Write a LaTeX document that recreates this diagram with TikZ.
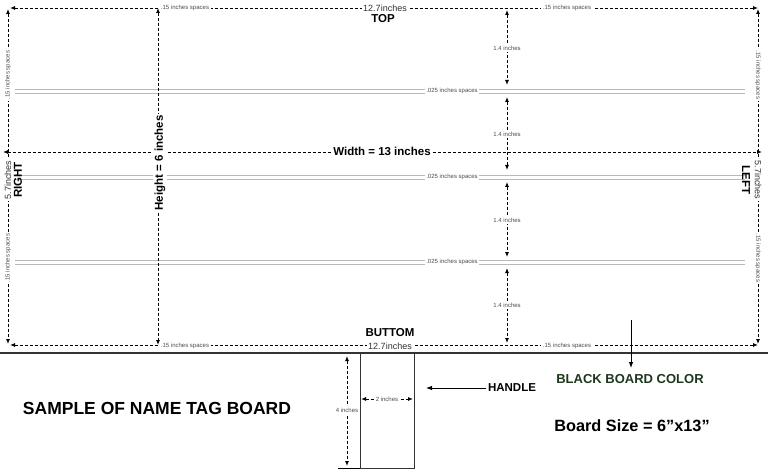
\documentclass[tikz,border=0pt]{standalone}
\usepackage{fontspec}
\setmainfont{Liberation Sans}
\usetikzlibrary{arrows.meta}
\definecolor{dgreen}{RGB}{30,55,30}
\begin{document}
\begin{tikzpicture}[x=1pt,y=-1pt,
 dimb/.style={dash pattern=on 3pt off 2pt,line width=0.9pt,{Latex[length=5pt,width=4pt]}-{Latex[length=5pt,width=4pt]}},
 tiny/.style={font=\fontsize{6}{7}\selectfont,fill=white,inner sep=1.5pt,text=black!70},
 small/.style={font=\fontsize{9}{10}\selectfont,fill=white,inner sep=1.5pt,text=black!80},
 bold/.style={font=\bfseries\fontsize{11.5}{13}\selectfont,inner sep=1.5pt},
 gap/.style={gray!55,line width=0.7pt}]
\useasboundingbox (0,0) rectangle (768,473);
\coordinate (tl) at (10,8); \coordinate (tr) at (758,8);
\coordinate (bl) at (10,345); \coordinate (br) at (758,345);
\foreach \y in {89,175,260}{
 \draw[gap] (15,\y) -- (745,\y); \draw[gap] (15,\y+4) -- (745,\y+4);
 \node[tiny] at (452,\y+2) {.025 inches spaces};}
\draw[dimb] (tl) -- (tr);
\node[tiny] at (185,8) {.15 inches spaces};
\node[small] at (385,8) {12.7inches};
\node[bold] at (383,19) {TOP};
\node[tiny] at (567,8) {.15 inches spaces};
\draw[dimb] (bl) -- (br);
\node[tiny] at (185,346) {.15 inches spaces};
\node[small] at (390,346) {12.7inches};
\node[bold] at (390,333) {BUTTOM};
\node[tiny] at (567,346) {.15 inches spaces};
\coordinate (lt) at (8,9); \coordinate (lb) at (8,344);
\coordinate (rt) at (758,9); \coordinate (rb) at (758,344);
\draw[dimb] (lt) -- (lb);
\draw[dimb] (rt) -- (rb);
\node[tiny,rotate=90] at (8,75) {.15 inches spaces};
\node[small,rotate=90] at (8,180) {5.7inches};
\node[tiny,rotate=90] at (8,258) {.15 inches spaces};
\node[tiny,rotate=-90] at (758,75) {.15 inches spaces};
\node[small,rotate=-90] at (758,180) {5.7inches};
\node[tiny,rotate=-90] at (758,258) {.15 inches spaces};
\node[bold,rotate=90] at (18,180) {RIGHT};
\node[bold,rotate=-90] at (746,180) {LEFT};
\coordinate (wl) at (3,152); \coordinate (wr) at (762,152);
\draw[dimb] (wl) -- (wr);
\node[bold,fill=white] at (382,151) {Width = 13 inches};
\coordinate (ht) at (158,8); \coordinate (hb) at (158,345);
\draw[dimb] (ht) -- (hb);
\node[bold,fill=white,rotate=90] at (160,163) {Height = 6 inches};
\foreach \a/\b/\m in {10/85/48,97/170/134,182/257/220,268/343/305}{
 \draw[dimb] (507,\a) -- (507,\b);
 \node[tiny] at (507,\m) {1.4 inches};}
\draw[line width=1.1pt,black!80] (0,353) -- (768,353);
\draw[line width=1pt,black!80] (360,353) rectangle (414,468);
\draw[line width=0.9pt] (338,468) -- (360,468);
\draw[dimb] (347,356) -- (347,466);
\node[tiny] at (347,410) {4 inches};
\draw[dimb] (361,399) -- (413,399);
\node[tiny] at (387,399) {2 inches};
\node[bold] (handle) at (512,388) {HANDLE};
\coordinate (ha) at (426,388);
\draw[line width=0.9pt,-{Latex[length=6pt,width=4.5pt]}] (handle.west) -- (ha);
\coordinate (bt) at (631,320); \coordinate (bb) at (631,368);
\draw[line width=0.9pt,-{Latex[length=6pt,width=4.5pt]}] (bt) -- (bb);
\node[font=\bfseries\fontsize{13}{15}\selectfont,text=dgreen] at (630,379) {BLACK BOARD COLOR};
\node[font=\bfseries\fontsize{17.5}{20}\selectfont] at (157,408) {SAMPLE OF NAME TAG BOARD};
\node[font=\bfseries\fontsize{16.3}{19}\selectfont] at (632,426) {Board Size = 6”x13”};
\end{tikzpicture}
\end{document}
